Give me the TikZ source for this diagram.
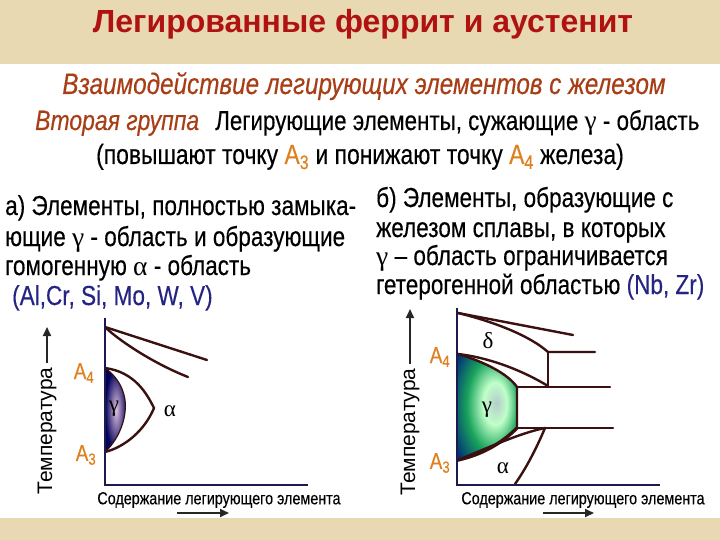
\documentclass[tikz,border=0pt]{standalone}
\usepackage{fontspec}
\setmainfont{Liberation Sans}
\newfontfamily\narrowfont[FakeStretch=0.82, FakeBold=0.3]{Liberation Sans}
\newfontfamily\greekfont{Liberation Serif}
\usetikzlibrary{arrows.meta, positioning}

\definecolor{parchment}{RGB}{232,217,178}
\definecolor{titlered}{RGB}{176,18,18}
\definecolor{rust}{RGB}{168,62,22}
\definecolor{axisnavy}{RGB}{28,26,78}
\definecolor{curvebrown}{RGB}{58,16,16}
\definecolor{pointorange}{RGB}{222,128,30}
\definecolor{elemblue}{RGB}{36,36,130}

\newcommand{\gr}[1]{{\greekfont #1}}
\newcommand{\pt}[1]{{\color{pointorange}A\textsubscript{#1}}}

\pgfdeclareradialshading{gammaglow}{\pgfpoint{8bp}{2bp}}{%
  color(0bp)=(white!85!cyan!60!gray); color(10bp)=(cyan!15!green!25!white);
  color(22bp)=(green!35!teal!80!gray); color(36bp)=(teal!55!blue!65!black);
  color(50bp)=(blue!40!black)}

\begin{document}
\begin{tikzpicture}[x=1pt, y=-1pt,
  heading/.style={anchor=base, inner sep=0pt},
  textline/.style={anchor=base west, inner sep=0pt, font=\narrowfont\fontsize{27.5}{27.5}\selectfont},
  axisline/.style={draw=axisnavy, line width=2.6pt},
  phaseline/.style={draw=curvebrown, line width=2.4pt, line cap=round},
  pointlabel/.style={inner sep=0pt, text=pointorange, font=\narrowfont\fontsize{23}{23}\selectfont},
  phaselabel/.style={inner sep=0pt, font=\greekfont\fontsize{23}{23}\selectfont},
  axislabel/.style={inner sep=0pt, font=\narrowfont\fontsize{17.5}{17.5}\selectfont},
  templabel/.style={inner sep=0pt, rotate=90, font=\fontsize{21}{21}\selectfont},
  pointer/.style={-{Triangle[length=9pt,width=8pt]}, line width=2pt, draw=black!85}
]
  \useasboundingbox (0,0) rectangle (720,540);
  \fill[parchment] (0,0) rectangle (720,64);
  \fill[parchment] (0,518) rectangle (720,540);

  % headings
  \node[heading, text=titlered, font=\bfseries\fontsize{32}{32}\selectfont] (title) at (363,33) {Легированные феррит и аустенит};
  \node[heading, text=rust, font=\narrowfont\itshape\fontsize{29.6}{29.6}\selectfont] (interact) at (364,94) {Взаимодействие легирующих элементов с железом};
  \node[textline, text=rust, font=\narrowfont\itshape\fontsize{28}{28}\selectfont] (group) at (35,130) {Вторая группа};
  \node[textline, font=\narrowfont\fontsize{27.3}{27.3}\selectfont] (narrowing) at (215,130) {Легирующие элементы, сужающие \gr{γ} - область};
  \node[heading, font=\narrowfont\fontsize{27.9}{27.9}\selectfont] (points) at (360,164) {(повышают точку \pt{3} и понижают точку \pt{4} железа)};

  % left column
  \node[textline] (a1) at (5,215) {а) Элементы, полностью замыка-};
  \node[textline] (a2) at (5,246) {ющие \gr{γ} - область и образующие};
  \node[textline] (a3) at (5,275) {гомогенную \gr{α} - область};
  \node[textline, text=elemblue] (a4) at (12,305) {(Al,Cr, Si, Mo, W, V)};

  % right column
  \node[textline] (b1) at (376,207) {б) Элементы, образующие с};
  \node[textline] (b2) at (376,237) {железом сплавы, в которых};
  \node[textline] (b3) at (376,265) {\gr{γ} – область ограничивается};
  \node[textline] (b4) at (376,294) {гетерогенной областью {\color{elemblue}(Nb, Zr)}};

  % left diagram
  \coordinate (o1) at (105,485);
  \coordinate (y1) at (105,318);
  \coordinate (x1) at (308,485);
  \coordinate (top1) at (105,327);
  \coordinate (a4l) at (105,368);
  \coordinate (a3l) at (105,452);
  \coordinate (tip1) at (154,408);
  \shade[inner color=violet!25!white, outer color=blue!35!black]
    (a4l) .. controls (122,380) and (127,398) .. (125,412)
    .. controls (123,430) and (113,445) .. (a3l) -- cycle;
  \draw[curvebrown, line width=1.2pt]
    (a4l) .. controls (122,380) and (127,398) .. (125,412)
    .. controls (123,430) and (113,445) .. (a3l);
  \draw[phaseline] (top1) -- (207,360);
  \draw[phaseline] (top1) .. controls (116,338) and (150,362) .. (188,377);
  \draw[phaseline] (a4l) .. controls (135,372) and (147,394) .. (tip1)
    .. controls (145,430) and (125,447) .. (a3l);
  \draw[axisline] (y1) -- (o1) -- (x1);
  \node[pointlabel] (a4ltext) at (84,373) {A\textsubscript{4}};
  \node[pointlabel] (a3ltext) at (86,455) {A\textsubscript{3}};
  \node[phaselabel] (gammal) at (114,409) {γ};
  \node[phaselabel] (alphal) at (170,411) {α};
  \node[templabel] (templ) at (47,431) {Температура};
  \coordinate (templtip) at (47,327);
  \draw[pointer] (templ.east) ++(0,-4) -- (templtip);
  \node[axislabel] (contl) at (219,500) {Содержание легирующего элемента};
  \coordinate (contlstart) at (177,513);
  \coordinate (contlend) at (229,513);
  \draw[pointer] (contlstart) -- (contlend);

  % right diagram
  \coordinate (o2) at (457,485);
  \coordinate (y2) at (457,308);
  \coordinate (x2) at (660,485);
  \coordinate (top2) at (458,313);
  \coordinate (knee) at (548,352);
  \coordinate (kneelow) at (548,386);
  \coordinate (a4r) at (458,354);
  \coordinate (a3r) at (458,460);
  \coordinate (gup) at (517,387);
  \coordinate (glow) at (517,428);
  \coordinate (wedge) at (545,428);
  \shade[shading=gammaglow]
    (a4r) .. controls (485,362) and (508,374) .. (gup) -- (glow)
    .. controls (500,445) and (480,455) .. (a3r) -- cycle;
  \draw[phaseline] (top2) -- (573,335);
  \draw[phaseline] (top2) .. controls (495,322) and (530,336) .. (knee) -- (595,352);
  \draw[phaseline] (knee) -- (kneelow);
  \draw[phaseline] (a4r) .. controls (492,358) and (525,372) .. (kneelow);
  \draw[phaseline] (a4r) .. controls (485,362) and (508,374) .. (gup) -- (glow);
  \draw[phaseline] (gup) -- (610,387);
  \draw[phaseline] (glow) -- (613,428);
  \draw[phaseline, line width=3.4pt] (glow) .. controls (500,445) and (480,455) .. (a3r);
  \draw[phaseline] (a3r) .. controls (490,447) and (520,433) .. (wedge);
  \draw[phaseline] (wedge) .. controls (537,447) and (527,467) .. (515,484);
  \draw[axisline] (y2) -- (o2) -- (x2);
  \node[pointlabel] (a4rtext) at (440,357) {A\textsubscript{4}};
  \node[pointlabel] (a3rtext) at (440,463) {A\textsubscript{3}};
  \node[phaselabel] (deltar) at (488,341) {δ};
  \node[phaselabel] (gammar) at (487,410) {γ};
  \node[phaselabel] (alphar) at (503,468) {α};
  \node[templabel] (tempr) at (410,432) {Температура};
  \coordinate (temprtip) at (410,309);
  \draw[pointer] (tempr.east) ++(0,-4) -- (temprtip);
  \node[axislabel] (contr) at (583,500) {Содержание легирующего элемента};
  \coordinate (contrstart) at (543,513);
  \coordinate (contrend) at (594,513);
  \draw[pointer] (contrstart) -- (contrend);
\end{tikzpicture}
\end{document}
